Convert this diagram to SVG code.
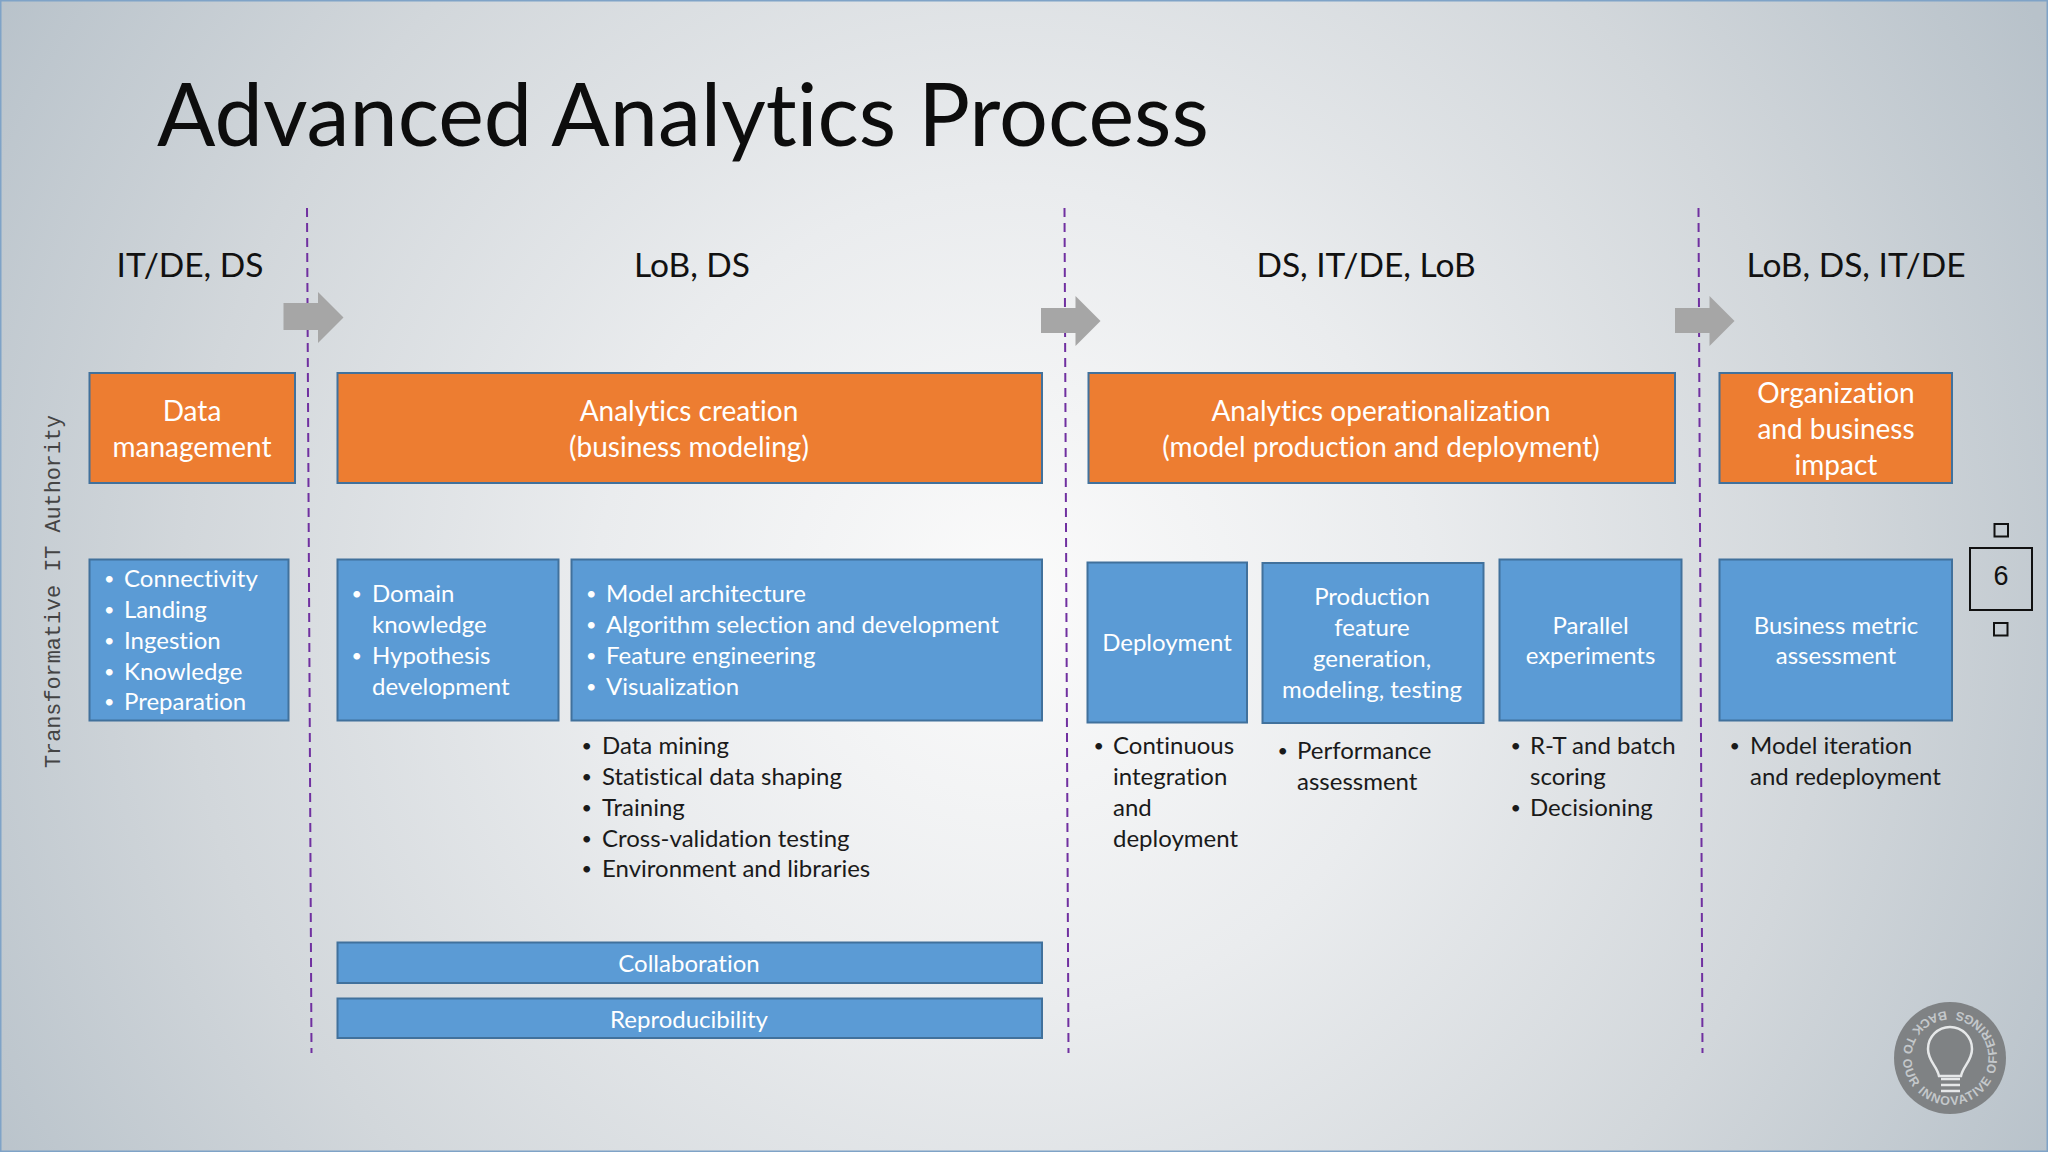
<svg xmlns="http://www.w3.org/2000/svg" width="2048" height="1152" viewBox="0 0 2048 1152">
<style>
text{font-family:Lato,Carlito,"Open Sans",sans-serif;font-variant-ligatures:none}
.t{font-size:24px;fill:#1a1a1a}
.w{font-size:24px;fill:#fff}
.c{text-anchor:middle}
.o{font-size:28px;fill:#fff;text-anchor:middle}
.h{font-size:33.500px;fill:#111;text-anchor:middle}
.or{fill:#ed7d31;stroke:#41719c;stroke-width:2}
.bl{fill:#5b9bd5;stroke:#41719c;stroke-width:2}
.dash{stroke:#7030a0;stroke-width:2;stroke-dasharray:9 6;fill:none}
.arr{fill:#a6a6a6}
.sq{fill:none;stroke:#111;stroke-width:2}
.bw{font-size:18px;fill:#fff}
.bt{font-size:18px;fill:#1a1a1a}
</style>
<defs>
<radialGradient id="bg" gradientUnits="userSpaceOnUse" cx="1010" cy="600" r="1180">
<stop offset="0" stop-color="#fbfbfb"/><stop offset=".35" stop-color="#eaecee"/><stop offset=".7" stop-color="#d2d7db"/><stop offset="1" stop-color="#b8c2ca"/>
</radialGradient>
<path id="ring" d="M1950 1011 A47 47 0 1 0 1950 1105 A47 47 0 1 0 1950 1011"/>
</defs>
<rect x="0.5" y="0.5" width="2047" height="1151" fill="url(#bg)" stroke="#7fa3c7" stroke-width="2"/>
<text id="title" x="157" y="146" font-size="86.4" fill="#0d0d0d">Advanced Analytics Process</text>
<text id="side" transform="translate(60 768) rotate(-90)" style="font-family:'Liberation Mono',monospace;font-size:21.8px;fill:#444">Transformative IT Authority</text>
<g id="headers">
<text class="h" x="190" y="277">IT/DE, DS</text>
<text class="h" x="692" y="277">LoB, DS</text>
<text class="h" x="1366" y="277">DS, IT/DE, LoB</text>
<text class="h" x="1856" y="277">LoB, DS, IT/DE</text>
</g>
<g id="connectors">
<path class="dash" d="M307 208L311.500 1053"/>
<path class="dash" d="M1064.500 208L1068.500 1053"/>
<path class="dash" d="M1698.500 208L1702.500 1053"/>
<path class="arr" d="M283.500 303H318V292L343.500 317.500L318 343V330H283.500Z"/>
<path class="arr" d="M1041 308H1075.500V296L1100.500 321L1075.500 346V333H1041Z"/>
<path class="arr" d="M1675 308H1709.500V296L1734.500 321L1709.500 346V333H1675Z"/>
</g>
<g id="data-management"><rect class="or" x="89.500" y="373" width="205.500" height="110"/><text class="o" x="192" y="421">Data</text><text class="o" x="192" y="457">management</text></g>
<g id="analytics-creation"><rect class="or" x="337.500" y="373" width="704.500" height="110"/><text class="o" x="689" y="421">Analytics creation</text><text class="o" x="689" y="457">(business modeling)</text></g>
<g id="analytics-operationalization"><rect class="or" x="1088.500" y="373" width="586.500" height="110"/><text class="o" x="1381" y="421">Analytics operationalization</text><text class="o" x="1381" y="457">(model production and deployment)</text></g>
<g id="organization-impact"><rect class="or" x="1719.500" y="373" width="232.500" height="110"/><text class="o" x="1836" y="403">Organization</text><text class="o" x="1836" y="439">and business</text><text class="o" x="1836" y="475">impact</text></g>
<g id="data-steps"><rect class="bl" x="89.500" y="559.500" width="199" height="161"/>
<text class="bw" x="104" y="585">•</text><text class="w" x="124" y="587">Connectivity</text><text class="bw" x="104" y="616">•</text><text class="w" x="124" y="618">Landing</text><text class="bw" x="104" y="647">•</text><text class="w" x="124" y="649">Ingestion</text><text class="bw" x="104" y="678">•</text><text class="w" x="124" y="680">Knowledge</text><text class="bw" x="104" y="708">•</text><text class="w" x="124" y="710">Preparation</text></g>
<g id="domain-knowledge"><rect class="bl" x="337.500" y="559.500" width="221" height="161"/>
<text class="bw" x="351.500" y="600">•</text><text class="w" x="372" y="602">Domain</text><text class="w" x="372" y="633">knowledge</text><text class="bw" x="351.500" y="662">•</text><text class="w" x="372" y="664">Hypothesis</text><text class="w" x="372" y="695">development</text></g>
<g id="model-architecture"><rect class="bl" x="571.500" y="559.500" width="470.500" height="161"/>
<text class="bw" x="586" y="600">•</text><text class="w" x="606" y="602">Model architecture</text><text class="bw" x="586" y="631">•</text><text class="w" x="606" y="633">Algorithm selection and development</text><text class="bw" x="586" y="662">•</text><text class="w" x="606" y="664">Feature engineering</text><text class="bw" x="586" y="693">•</text><text class="w" x="606" y="695">Visualization</text></g>
<g id="model-notes">
<text class="bt" x="581.500" y="752">•</text><text class="t" x="602" y="754">Data mining</text><text class="bt" x="581.500" y="783">•</text><text class="t" x="602" y="785">Statistical data shaping</text><text class="bt" x="581.500" y="814">•</text><text class="t" x="602" y="816">Training</text><text class="bt" x="581.500" y="845">•</text><text class="t" x="602" y="847">Cross-validation testing</text><text class="bt" x="581.500" y="875">•</text><text class="t" x="602" y="877">Environment and libraries</text></g>
<g id="deployment"><rect class="bl" x="1087.500" y="562.500" width="159.500" height="160"/><text class="w c" x="1167" y="651">Deployment</text></g>
<g id="production"><rect class="bl" x="1262.500" y="563" width="221" height="160"/><text class="w c" x="1372" y="605">Production</text><text class="w c" x="1372" y="636">feature</text><text class="w c" x="1372" y="667">generation,</text><text class="w c" x="1372" y="698">modeling, testing</text></g>
<g id="parallel"><rect class="bl" x="1499.500" y="559.500" width="182" height="161"/><text class="w c" x="1590.500" y="634">Parallel</text><text class="w c" x="1590.500" y="664">experiments</text></g>
<g id="business-metric"><rect class="bl" x="1719.500" y="559.500" width="232.500" height="161"/><text class="w c" x="1836" y="634">Business metric</text><text class="w c" x="1836" y="664">assessment</text></g>
<g id="deployment-notes"><text class="bt" x="1093.500" y="752">•</text><text class="t" x="1113" y="754">Continuous</text><text class="t" x="1113" y="785">integration</text><text class="t" x="1113" y="816">and</text><text class="t" x="1113" y="847">deployment</text></g>
<g id="production-notes"><text class="bt" x="1277.500" y="757">•</text><text class="t" x="1297" y="759">Performance</text><text class="t" x="1297" y="790">assessment</text></g>
<g id="parallel-notes"><text class="bt" x="1510.500" y="752">•</text><text class="t" x="1530" y="754">R-T and batch</text><text class="t" x="1530" y="785">scoring</text><text class="bt" x="1510.500" y="814">•</text><text class="t" x="1530" y="816">Decisioning</text></g>
<g id="business-notes"><text class="bt" x="1729.500" y="752">•</text><text class="t" x="1750" y="754">Model iteration</text><text class="t" x="1750" y="785">and redeployment</text></g>
<g id="collaboration"><rect class="bl" x="337.500" y="942.500" width="704.500" height="40.500"/><text class="w c" x="689" y="972">Collaboration</text></g>
<g id="reproducibility"><rect class="bl" x="337.500" y="998.500" width="704.500" height="39.500"/><text class="w c" x="689" y="1028">Reproducibility</text></g>
<g id="page-number"><rect class="sq" x="1970" y="548" width="62" height="62"/><rect class="sq" x="1994.500" y="524" width="13.500" height="12.500"/><rect class="sq" x="1994" y="623" width="13.500" height="12.500"/><text x="2001" y="585" text-anchor="middle" style="font-family:'Liberation Sans',sans-serif;font-size:27px;fill:#111">6</text></g>
<g id="logo"><circle cx="1950" cy="1058" r="56" fill="#7f8284"/>
<text style="font-size:12.500px;font-weight:700;fill:#c4c8cb;font-family:'Liberation Sans',sans-serif"><textPath href="#ring" textLength="284" lengthAdjust="spacing" startOffset="4">BACK TO OUR INNOVATIVE OFFERINGS</textPath></text>
<path d="M1939 1076C1937 1066 1928 1061 1928 1049A22 22 0 0 1 1972 1049C1972 1061 1963 1066 1961 1076Z" fill="none" stroke="#e6e8e9" stroke-width="2.500"/>
<path d="M1941 1079H1960M1941 1085H1960M1941 1091H1960" stroke="#e6e8e9" stroke-width="2.500" fill="none"/></g>
</svg>
